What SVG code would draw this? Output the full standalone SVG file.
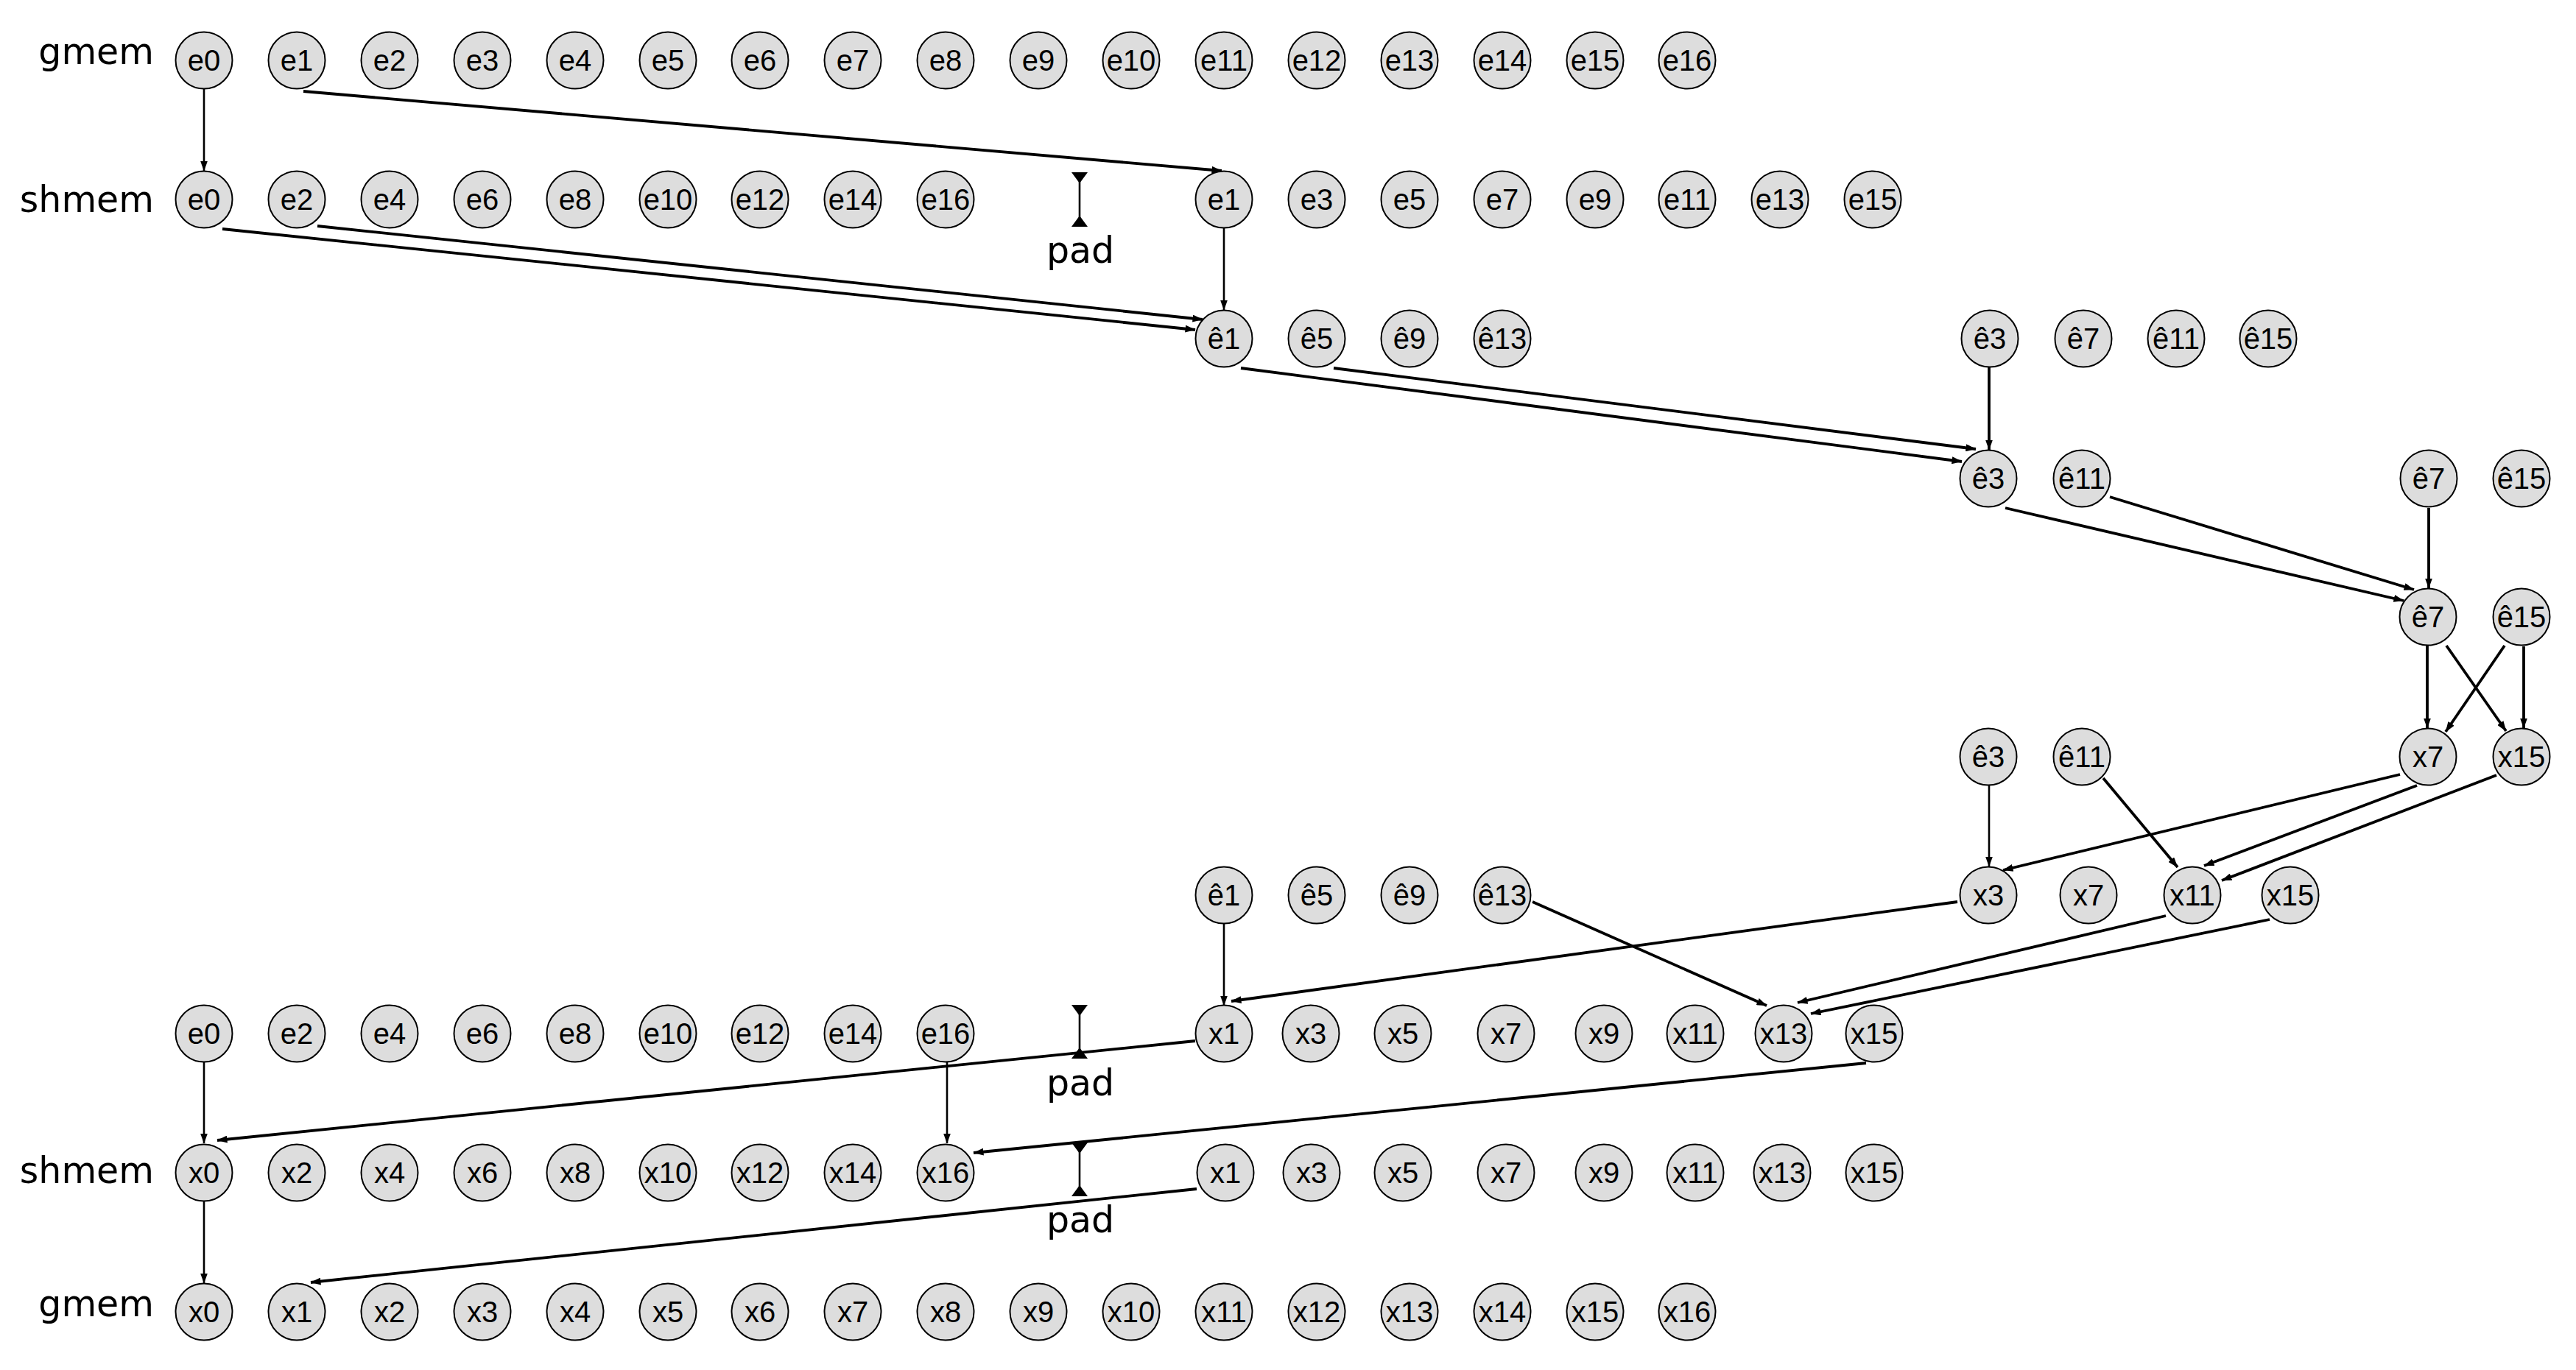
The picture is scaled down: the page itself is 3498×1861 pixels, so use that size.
<svg xmlns="http://www.w3.org/2000/svg" width="3498" height="1861" viewBox="0 0 3498 1861">
<style>
.n circle{fill:#dddddd;stroke:#000;stroke-width:2}
.n text{font-family:"Liberation Sans",Arial,sans-serif;font-size:40px;text-anchor:middle;fill:#000}
.lbl{font-family:"DejaVu Sans",Verdana,sans-serif;font-size:49px;fill:#000}
.e{fill:none;stroke:#000;marker-end:url(#ah)}
.thin{stroke-width:2.6}
.thick{stroke-width:3.8}
.pad line{stroke:#000;stroke-width:2.6}
.pad polygon{fill:#000}
</style>
<defs>
<marker id="ah" markerUnits="userSpaceOnUse" markerWidth="14" markerHeight="10" refX="13.5" refY="5" orient="auto">
<path d="M0,0 L14,5 L0,10 z" fill="#000"/>
</marker>
</defs>
<rect width="3498" height="1861" fill="#fff"/>

<g id="labels">
<text class="lbl" x="209" y="87" text-anchor="end">gmem</text>
<text class="lbl" x="209" y="288" text-anchor="end">shmem</text>
<text class="lbl" x="209" y="1607" text-anchor="end">shmem</text>
<text class="lbl" x="209" y="1788" text-anchor="end">gmem</text>
</g>

<g id="pads">
<g class="pad" id="pad1"><line x1="1466" y1="234" x2="1466" y2="308"/><polygon points="1455,234 1477,234 1466,249"/><polygon points="1455,308 1477,308 1466,293"/><text class="lbl" x="1467" y="357" text-anchor="middle">pad</text></g>
<g class="pad" id="pad2"><line x1="1466" y1="1365" x2="1466" y2="1438"/><polygon points="1455,1365 1477,1365 1466,1380"/><polygon points="1455,1438 1477,1438 1466,1423"/><text class="lbl" x="1467" y="1488" text-anchor="middle">pad</text></g>
<g class="pad" id="pad3"><line x1="1466" y1="1552" x2="1466" y2="1625"/><polygon points="1455,1552 1477,1552 1466,1567"/><polygon points="1455,1625 1477,1625 1466,1610"/><text class="lbl" x="1467" y="1674" text-anchor="middle">pad</text></g>
</g>

<g id="connectors">
<path class="e thin" d="M277,121 L277,232"/>
<path class="e thick" d="M412,124 L1659,232"/>
<path class="e thin" d="M1662,310 L1662,421"/>
<path class="e thick" d="M302,311 L1623,448"/>
<path class="e thick" d="M431,307 L1633,434"/>
<path class="e thick" d="M1685,500 L2664,627"/>
<path class="e thick" d="M1811,500 L2683,610"/>
<path class="e thick" d="M2701,499 L2701,611"/>
<path class="e thick" d="M2723,690 L3264,816"/>
<path class="e thick" d="M2865,675 L3278,801"/>
<path class="e thick" d="M3298,690 L3298,799"/>
<path class="e thick" d="M3296,877 L3296,989"/>
<path class="e thick" d="M3322,877 L3403,993"/>
<path class="e thick" d="M3401,877 L3321,994"/>
<path class="e thick" d="M3427,878 L3427,989"/>
<path class="e thin" d="M2701,1067 L2701,1177"/>
<path class="e thick" d="M2856,1057 L2957,1178"/>
<path class="e thick" d="M3259,1052 L2720,1182"/>
<path class="e thick" d="M3282,1067 L2993,1176"/>
<path class="e thick" d="M3390,1053 L3017,1196"/>
<path class="e thin" d="M1662,1255 L1662,1366"/>
<path class="e thick" d="M2658,1225 L1672,1360"/>
<path class="e thick" d="M2081,1225 L2399,1366"/>
<path class="e thick" d="M2941,1244 L2441,1362"/>
<path class="e thick" d="M3082,1249 L2459,1377"/>
<path class="e thick" d="M1623,1414 L295,1549"/>
<path class="e thin" d="M277,1443 L277,1553"/>
<path class="e thin" d="M1286,1443 L1286,1553"/>
<path class="e thick" d="M2534,1444 L1322,1566"/>
<path class="e thick" d="M1625,1615 L422,1742"/>
<path class="e thin" d="M277,1632 L277,1743"/>
</g>

<g id="row0">
<g class="n" id="r0-e0"><circle cx="277" cy="82" r="38.5"/><text x="277" y="96">e0</text></g>
<g class="n" id="r0-e1"><circle cx="403" cy="82" r="38.5"/><text x="403" y="96">e1</text></g>
<g class="n" id="r0-e2"><circle cx="529" cy="82" r="38.5"/><text x="529" y="96">e2</text></g>
<g class="n" id="r0-e3"><circle cx="655" cy="82" r="38.5"/><text x="655" y="96">e3</text></g>
<g class="n" id="r0-e4"><circle cx="781" cy="82" r="38.5"/><text x="781" y="96">e4</text></g>
<g class="n" id="r0-e5"><circle cx="907" cy="82" r="38.5"/><text x="907" y="96">e5</text></g>
<g class="n" id="r0-e6"><circle cx="1032" cy="82" r="38.5"/><text x="1032" y="96">e6</text></g>
<g class="n" id="r0-e7"><circle cx="1158" cy="82" r="38.5"/><text x="1158" y="96">e7</text></g>
<g class="n" id="r0-e8"><circle cx="1284" cy="82" r="38.5"/><text x="1284" y="96">e8</text></g>
<g class="n" id="r0-e9"><circle cx="1410" cy="82" r="38.5"/><text x="1410" y="96">e9</text></g>
<g class="n" id="r0-e10"><circle cx="1536" cy="82" r="38.5"/><text x="1536" y="96">e10</text></g>
<g class="n" id="r0-e11"><circle cx="1662" cy="82" r="38.5"/><text x="1662" y="96">e11</text></g>
<g class="n" id="r0-e12"><circle cx="1788" cy="82" r="38.5"/><text x="1788" y="96">e12</text></g>
<g class="n" id="r0-e13"><circle cx="1914" cy="82" r="38.5"/><text x="1914" y="96">e13</text></g>
<g class="n" id="r0-e14"><circle cx="2040" cy="82" r="38.5"/><text x="2040" y="96">e14</text></g>
<g class="n" id="r0-e15"><circle cx="2166" cy="82" r="38.5"/><text x="2166" y="96">e15</text></g>
<g class="n" id="r0-e16"><circle cx="2291" cy="82" r="38.5"/><text x="2291" y="96">e16</text></g>
</g>

<g id="row1">
<g class="n" id="r1-e0"><circle cx="277" cy="271" r="38.5"/><text x="277" y="285">e0</text></g>
<g class="n" id="r1-e2"><circle cx="403" cy="271" r="38.5"/><text x="403" y="285">e2</text></g>
<g class="n" id="r1-e4"><circle cx="529" cy="271" r="38.5"/><text x="529" y="285">e4</text></g>
<g class="n" id="r1-e6"><circle cx="655" cy="271" r="38.5"/><text x="655" y="285">e6</text></g>
<g class="n" id="r1-e8"><circle cx="781" cy="271" r="38.5"/><text x="781" y="285">e8</text></g>
<g class="n" id="r1-e10"><circle cx="907" cy="271" r="38.5"/><text x="907" y="285">e10</text></g>
<g class="n" id="r1-e12"><circle cx="1032" cy="271" r="38.5"/><text x="1032" y="285">e12</text></g>
<g class="n" id="r1-e14"><circle cx="1158" cy="271" r="38.5"/><text x="1158" y="285">e14</text></g>
<g class="n" id="r1-e16"><circle cx="1284" cy="271" r="38.5"/><text x="1284" y="285">e16</text></g>
<g class="n" id="r1-e1"><circle cx="1662" cy="271" r="38.5"/><text x="1662" y="285">e1</text></g>
<g class="n" id="r1-e3"><circle cx="1788" cy="271" r="38.5"/><text x="1788" y="285">e3</text></g>
<g class="n" id="r1-e5"><circle cx="1914" cy="271" r="38.5"/><text x="1914" y="285">e5</text></g>
<g class="n" id="r1-e7"><circle cx="2040" cy="271" r="38.5"/><text x="2040" y="285">e7</text></g>
<g class="n" id="r1-e9"><circle cx="2166" cy="271" r="38.5"/><text x="2166" y="285">e9</text></g>
<g class="n" id="r1-e11"><circle cx="2291" cy="271" r="38.5"/><text x="2291" y="285">e11</text></g>
<g class="n" id="r1-e13"><circle cx="2417" cy="271" r="38.5"/><text x="2417" y="285">e13</text></g>
<g class="n" id="r1-e15"><circle cx="2543" cy="271" r="38.5"/><text x="2543" y="285">e15</text></g>
</g>

<g id="row2">
<g class="n" id="r2-h1"><circle cx="1662" cy="460" r="38.5"/><text x="1662" y="474">ê1</text></g>
<g class="n" id="r2-h5"><circle cx="1788" cy="460" r="38.5"/><text x="1788" y="474">ê5</text></g>
<g class="n" id="r2-h9"><circle cx="1914" cy="460" r="38.5"/><text x="1914" y="474">ê9</text></g>
<g class="n" id="r2-h13"><circle cx="2040" cy="460" r="38.5"/><text x="2040" y="474">ê13</text></g>
<g class="n" id="r2-h3"><circle cx="2702" cy="460" r="38.5"/><text x="2702" y="474">ê3</text></g>
<g class="n" id="r2-h7"><circle cx="2829" cy="460" r="38.5"/><text x="2829" y="474">ê7</text></g>
<g class="n" id="r2-h11"><circle cx="2955" cy="460" r="38.5"/><text x="2955" y="474">ê11</text></g>
<g class="n" id="r2-h15"><circle cx="3080" cy="460" r="38.5"/><text x="3080" y="474">ê15</text></g>
</g>

<g id="row3">
<g class="n" id="r3-h3"><circle cx="2700" cy="650" r="38.5"/><text x="2700" y="664">ê3</text></g>
<g class="n" id="r3-h11"><circle cx="2827" cy="650" r="38.5"/><text x="2827" y="664">ê11</text></g>
<g class="n" id="r3-h7"><circle cx="3298" cy="650" r="38.5"/><text x="3298" y="664">ê7</text></g>
<g class="n" id="r3-h15"><circle cx="3424" cy="650" r="38.5"/><text x="3424" y="664">ê15</text></g>
</g>

<g id="row4">
<g class="n" id="r4-h7"><circle cx="3297" cy="838" r="38.5"/><text x="3297" y="852">ê7</text></g>
<g class="n" id="r4-h15"><circle cx="3424" cy="838" r="38.5"/><text x="3424" y="852">ê15</text></g>
</g>

<g id="row5">
<g class="n" id="r5-h3"><circle cx="2700" cy="1028" r="38.5"/><text x="2700" y="1042">ê3</text></g>
<g class="n" id="r5-h11"><circle cx="2827" cy="1028" r="38.5"/><text x="2827" y="1042">ê11</text></g>
<g class="n" id="r5-x7"><circle cx="3297" cy="1028" r="38.5"/><text x="3297" y="1042">x7</text></g>
<g class="n" id="r5-x15"><circle cx="3424" cy="1028" r="38.5"/><text x="3424" y="1042">x15</text></g>
</g>

<g id="row6">
<g class="n" id="r6-h1"><circle cx="1662" cy="1216" r="38.5"/><text x="1662" y="1230">ê1</text></g>
<g class="n" id="r6-h5"><circle cx="1788" cy="1216" r="38.5"/><text x="1788" y="1230">ê5</text></g>
<g class="n" id="r6-h9"><circle cx="1914" cy="1216" r="38.5"/><text x="1914" y="1230">ê9</text></g>
<g class="n" id="r6-h13"><circle cx="2040" cy="1216" r="38.5"/><text x="2040" y="1230">ê13</text></g>
<g class="n" id="r6-x3"><circle cx="2700" cy="1216" r="38.5"/><text x="2700" y="1230">x3</text></g>
<g class="n" id="r6-x7"><circle cx="2836" cy="1216" r="38.5"/><text x="2836" y="1230">x7</text></g>
<g class="n" id="r6-x11"><circle cx="2977" cy="1216" r="38.5"/><text x="2977" y="1230">x11</text></g>
<g class="n" id="r6-x15"><circle cx="3110" cy="1216" r="38.5"/><text x="3110" y="1230">x15</text></g>
</g>

<g id="row7">
<g class="n" id="r7-e0"><circle cx="277" cy="1404" r="38.5"/><text x="277" y="1418">e0</text></g>
<g class="n" id="r7-e2"><circle cx="403" cy="1404" r="38.5"/><text x="403" y="1418">e2</text></g>
<g class="n" id="r7-e4"><circle cx="529" cy="1404" r="38.5"/><text x="529" y="1418">e4</text></g>
<g class="n" id="r7-e6"><circle cx="655" cy="1404" r="38.5"/><text x="655" y="1418">e6</text></g>
<g class="n" id="r7-e8"><circle cx="781" cy="1404" r="38.5"/><text x="781" y="1418">e8</text></g>
<g class="n" id="r7-e10"><circle cx="907" cy="1404" r="38.5"/><text x="907" y="1418">e10</text></g>
<g class="n" id="r7-e12"><circle cx="1032" cy="1404" r="38.5"/><text x="1032" y="1418">e12</text></g>
<g class="n" id="r7-e14"><circle cx="1158" cy="1404" r="38.5"/><text x="1158" y="1418">e14</text></g>
<g class="n" id="r7-e16"><circle cx="1284" cy="1404" r="38.5"/><text x="1284" y="1418">e16</text></g>
<g class="n" id="r7-x1"><circle cx="1662" cy="1404" r="38.5"/><text x="1662" y="1418">x1</text></g>
<g class="n" id="r7-x3"><circle cx="1780" cy="1404" r="38.5"/><text x="1780" y="1418">x3</text></g>
<g class="n" id="r7-x5"><circle cx="1905" cy="1404" r="38.5"/><text x="1905" y="1418">x5</text></g>
<g class="n" id="r7-x7"><circle cx="2045" cy="1404" r="38.5"/><text x="2045" y="1418">x7</text></g>
<g class="n" id="r7-x9"><circle cx="2178" cy="1404" r="38.5"/><text x="2178" y="1418">x9</text></g>
<g class="n" id="r7-x11"><circle cx="2302" cy="1404" r="38.5"/><text x="2302" y="1418">x11</text></g>
<g class="n" id="r7-x13"><circle cx="2422" cy="1404" r="38.5"/><text x="2422" y="1418">x13</text></g>
<g class="n" id="r7-x15"><circle cx="2545" cy="1404" r="38.5"/><text x="2545" y="1418">x15</text></g>
</g>

<g id="row8">
<g class="n" id="r8-x0"><circle cx="277" cy="1593" r="38.5"/><text x="277" y="1607">x0</text></g>
<g class="n" id="r8-x2"><circle cx="403" cy="1593" r="38.5"/><text x="403" y="1607">x2</text></g>
<g class="n" id="r8-x4"><circle cx="529" cy="1593" r="38.5"/><text x="529" y="1607">x4</text></g>
<g class="n" id="r8-x6"><circle cx="655" cy="1593" r="38.5"/><text x="655" y="1607">x6</text></g>
<g class="n" id="r8-x8"><circle cx="781" cy="1593" r="38.5"/><text x="781" y="1607">x8</text></g>
<g class="n" id="r8-x10"><circle cx="907" cy="1593" r="38.5"/><text x="907" y="1607">x10</text></g>
<g class="n" id="r8-x12"><circle cx="1032" cy="1593" r="38.5"/><text x="1032" y="1607">x12</text></g>
<g class="n" id="r8-x14"><circle cx="1158" cy="1593" r="38.5"/><text x="1158" y="1607">x14</text></g>
<g class="n" id="r8-x16"><circle cx="1284" cy="1593" r="38.5"/><text x="1284" y="1607">x16</text></g>
<g class="n" id="r8-x1"><circle cx="1664" cy="1593" r="38.5"/><text x="1664" y="1607">x1</text></g>
<g class="n" id="r8-x3"><circle cx="1781" cy="1593" r="38.5"/><text x="1781" y="1607">x3</text></g>
<g class="n" id="r8-x5"><circle cx="1905" cy="1593" r="38.5"/><text x="1905" y="1607">x5</text></g>
<g class="n" id="r8-x7"><circle cx="2045" cy="1593" r="38.5"/><text x="2045" y="1607">x7</text></g>
<g class="n" id="r8-x9"><circle cx="2178" cy="1593" r="38.5"/><text x="2178" y="1607">x9</text></g>
<g class="n" id="r8-x11"><circle cx="2302" cy="1593" r="38.5"/><text x="2302" y="1607">x11</text></g>
<g class="n" id="r8-x13"><circle cx="2420" cy="1593" r="38.5"/><text x="2420" y="1607">x13</text></g>
<g class="n" id="r8-x15"><circle cx="2545" cy="1593" r="38.5"/><text x="2545" y="1607">x15</text></g>
</g>

<g id="row9">
<g class="n" id="r9-x0"><circle cx="277" cy="1782" r="38.5"/><text x="277" y="1796">x0</text></g>
<g class="n" id="r9-x1"><circle cx="403" cy="1782" r="38.5"/><text x="403" y="1796">x1</text></g>
<g class="n" id="r9-x2"><circle cx="529" cy="1782" r="38.5"/><text x="529" y="1796">x2</text></g>
<g class="n" id="r9-x3"><circle cx="655" cy="1782" r="38.5"/><text x="655" y="1796">x3</text></g>
<g class="n" id="r9-x4"><circle cx="781" cy="1782" r="38.5"/><text x="781" y="1796">x4</text></g>
<g class="n" id="r9-x5"><circle cx="907" cy="1782" r="38.5"/><text x="907" y="1796">x5</text></g>
<g class="n" id="r9-x6"><circle cx="1032" cy="1782" r="38.5"/><text x="1032" y="1796">x6</text></g>
<g class="n" id="r9-x7"><circle cx="1158" cy="1782" r="38.5"/><text x="1158" y="1796">x7</text></g>
<g class="n" id="r9-x8"><circle cx="1284" cy="1782" r="38.5"/><text x="1284" y="1796">x8</text></g>
<g class="n" id="r9-x9"><circle cx="1410" cy="1782" r="38.5"/><text x="1410" y="1796">x9</text></g>
<g class="n" id="r9-x10"><circle cx="1536" cy="1782" r="38.5"/><text x="1536" y="1796">x10</text></g>
<g class="n" id="r9-x11"><circle cx="1662" cy="1782" r="38.5"/><text x="1662" y="1796">x11</text></g>
<g class="n" id="r9-x12"><circle cx="1788" cy="1782" r="38.5"/><text x="1788" y="1796">x12</text></g>
<g class="n" id="r9-x13"><circle cx="1914" cy="1782" r="38.5"/><text x="1914" y="1796">x13</text></g>
<g class="n" id="r9-x14"><circle cx="2040" cy="1782" r="38.5"/><text x="2040" y="1796">x14</text></g>
<g class="n" id="r9-x15"><circle cx="2166" cy="1782" r="38.5"/><text x="2166" y="1796">x15</text></g>
<g class="n" id="r9-x16"><circle cx="2291" cy="1782" r="38.5"/><text x="2291" y="1796">x16</text></g>
</g>
</svg>
